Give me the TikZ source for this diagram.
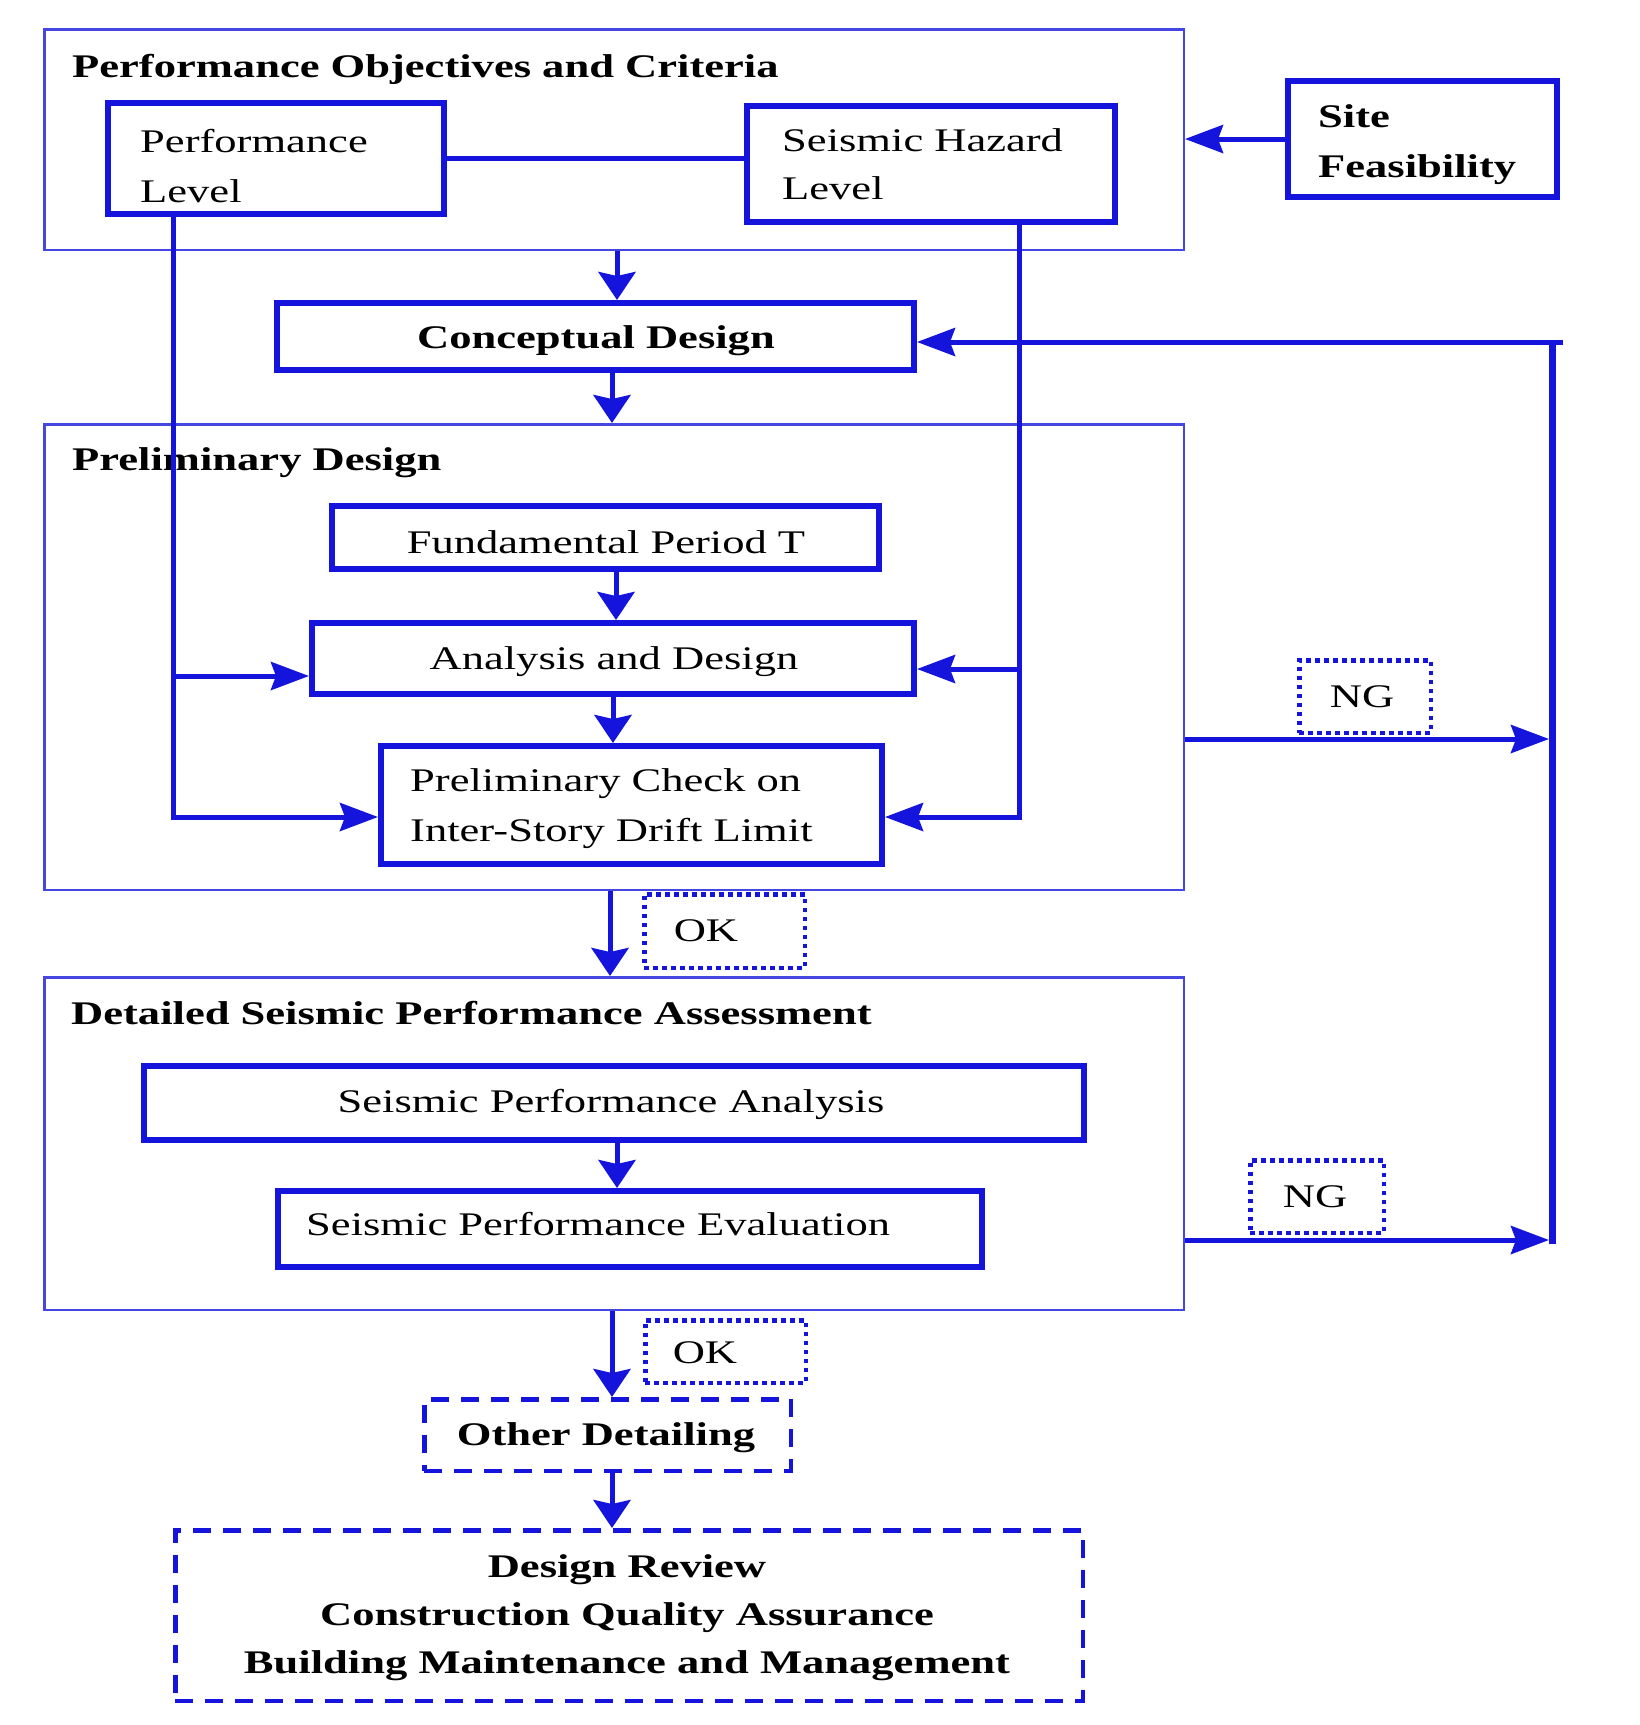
\documentclass[tikz,border=0pt]{standalone}
\usepackage{fontspec}
\setmainfont{Liberation Serif}[FakeStretch=1.35]
\usetikzlibrary{arrows.meta}
\definecolor{lb}{RGB}{20,20,220}
\definecolor{tb}{RGB}{70,70,225}
\newcommand\fsz{\fontsize{33}{50}\selectfont}
\newcommand\mytwo[3]{\vtop{\baselineskip=#1\hbox{#2}\hbox{#3}}}
\newcommand\mycline[1]{\hbox to 0pt{\hss#1\hss}}
\begin{document}
\begin{tikzpicture}[x=1pt,y=-1pt,
  outerbox/.style={draw=tb, line width=2.5pt, inner sep=0pt},
  box/.style={draw=lb, line width=6pt, inner sep=0pt},
  dashbox/.style={draw=lb, line width=4.5pt, dash pattern=on 18pt off 12pt, inner sep=0pt},
  dotbox/.style={draw=lb, line width=4.5pt, dash pattern=on 4.5pt off 4.5pt, inner sep=0pt},
  txt/.style={inner sep=0pt, anchor=base west, font=\fsz},
  btxt/.style={txt, font=\fsz\bfseries},
  ctxt/.style={inner sep=0pt, anchor=base, font=\fsz},
  cbtxt/.style={ctxt, font=\fsz\bfseries},
  conn/.style={draw=lb, line width=5pt},
  harr/.style={conn, -{Stealth[length=38pt,width=28pt,inset=5pt]}},
  varr/.style={conn, -{Stealth[length=28pt,width=37pt,inset=4pt]}},
]
\fill[white] (0,0) rectangle (1640,1725);
\useasboundingbox (0,0) rectangle (1640,1725);

% outer group boxes
\node[outerbox, minimum width=1139.5pt, minimum height=220.5pt] (b1) at (614,139.5) {};
\node[outerbox, minimum width=1139.5pt, minimum height=465.5pt] (b2) at (614,657) {};
\node[outerbox, minimum width=1139.5pt, minimum height=332.5pt] (b3) at (614,1143.5) {};

% titles
\node[btxt] (t1) at (72,77) {Performance Objectives and Criteria};
\node[btxt] (t2) at (72,470) {Preliminary Design};
\node[btxt] (t3) at (71,1024) {Detailed Seismic Performance Assessment};

% boxes
\node[box, minimum width=336pt, minimum height=111pt] (perf) at (276,158.5) {};
\node[txt] (perft) at (140,152) {\mytwo{50pt}{Performance}{Level}};
\node[box, minimum width=368pt, minimum height=116pt] (haz) at (931,164) {};
\node[txt] (hazt) at (782,151) {\mytwo{48pt}{Seismic Hazard}{Level}};
\node[box, minimum width=269pt, minimum height=116pt] (site) at (1422.5,139) {};
\node[btxt] (sitet) at (1318,127) {\mytwo{50pt}{Site}{Feasibility}};
\node[box, minimum width=637pt, minimum height=67pt] (cd) at (595.5,336.5) {};
\node[cbtxt] (cdt) at (596,348) {Conceptual Design};
\node[box, minimum width=547pt, minimum height=63pt] (fp) at (605.5,537.5) {};
\node[ctxt] (fpt) at (606,553) {Fundamental Period T};
\node[box, minimum width=602pt, minimum height=71pt] (ad) at (613,658.5) {};
\node[ctxt] (adt) at (614,669) {Analysis and Design};
\node[box, minimum width=501pt, minimum height=118pt] (pc) at (631.5,805) {};
\node[txt] (pct) at (410,791) {\mytwo{50pt}{Preliminary Check on}{Inter-Story Drift Limit}};
\node[box, minimum width=940pt, minimum height=74pt] (spa) at (614,1103) {};
\node[ctxt] (spat) at (611,1112) {Seismic Performance Analysis};
\node[box, minimum width=704pt, minimum height=76pt] (spe) at (630,1229) {};
\node[txt] (spet) at (306,1235) {Seismic Performance Evaluation};
\node[dashbox, minimum width=366.5pt, minimum height=71.5pt] (od) at (607.5,1435) {};
\node[cbtxt] (odt) at (606,1445) {Other Detailing};
\node[dashbox, minimum width=907.5pt, minimum height=170.5pt] (fin) at (629,1615.5) {};
\node[cbtxt] (fint) at (627,1577) {\vtop{\baselineskip=48pt\mycline{Design Review}\mycline{Construction Quality Assurance}\mycline{Building Maintenance and Management}}};

\node[dotbox, minimum width=160.5pt, minimum height=73.5pt] (ok1) at (724.5,931) {};
\node[ctxt] (ok1t) at (706,941) {OK};
\node[dotbox, minimum width=160.5pt, minimum height=62.5pt] (ok2) at (725.5,1351.5) {};
\node[ctxt] (ok2t) at (705,1363) {OK};
\node[dotbox, minimum width=131.5pt, minimum height=72.5pt] (ng1) at (1365,696.5) {};
\node[ctxt] (ng1t) at (1362,707) {NG};
\node[dotbox, minimum width=133.5pt, minimum height=72.5pt] (ng2) at (1317,1196.5) {};
\node[ctxt] (ng2t) at (1315,1207) {NG};

% connectors
\draw[conn] (perf.east) -- (perf.east -| haz.west);
\draw[harr] (site.west) -- (site.west -| b1.east);

\coordinate (a1) at ([xshift=3pt]b1.south);
\draw[varr] (a1) -- (a1 |- cd.north);
\coordinate (a2) at ([xshift=16.5pt]cd.south);
\draw[varr] (a2) -- (a2 |- b2.north);
\coordinate (a3) at ([xshift=10.5pt]fp.south);
\draw[varr] (a3) -- (a3 |- ad.north);
\draw[varr] (ad.south) -- (ad.south |- pc.north);
\coordinate (a5) at ([xshift=-4pt]b2.south);
\draw[varr] (a5) -- (a5 |- b3.north);
\coordinate (a6) at ([xshift=3pt]spa.south);
\draw[varr] (a6) -- (a6 |- spe.north);
\coordinate (a7) at ([xshift=-2pt]b3.south);
\draw[varr] (a7) -- (a7 |- od.north);
\coordinate (a8) at ([xshift=4.5pt]od.south);
\draw[varr] (a8) -- (a8 |- fin.north);

\coordinate (pl) at ([xshift=-103pt]perf.south);
\coordinate (pcL) at ([yshift=-12pt]pc.west);
\coordinate (adL) at ([yshift=-17.5pt]ad.west);
\draw[harr] (pl) |- (pcL);
\draw[harr] (pl |- adL) -- (adL);

\coordinate (hr) at ([xshift=88pt]haz.south);
\coordinate (pcR) at ([yshift=-12pt]pc.east);
\coordinate (adR) at ([yshift=-10.5pt]ad.east);
\draw[harr] (hr) |- (pcR);
\draw[harr] (hr |- adR) -- (adR);

\coordinate (fbT) at (1552,339.5);
\coordinate (fbB) at (1552,1244);
\coordinate (fbS) at (1563,342);
\coordinate (fbx) at (1549,0);
\draw[conn, line width=7pt] (fbT) -- (fbB);
\draw[harr] (fbS) -- (cd.east |- fbS);
\coordinate (n1) at ([yshift=-82pt]b2.east);
\draw[harr] (n1) -- (n1 -| fbx);
\coordinate (n2) at ([yshift=-96.5pt]b3.east);
\draw[harr] (n2) -- (n2 -| fbx);
\end{tikzpicture}
\end{document}
